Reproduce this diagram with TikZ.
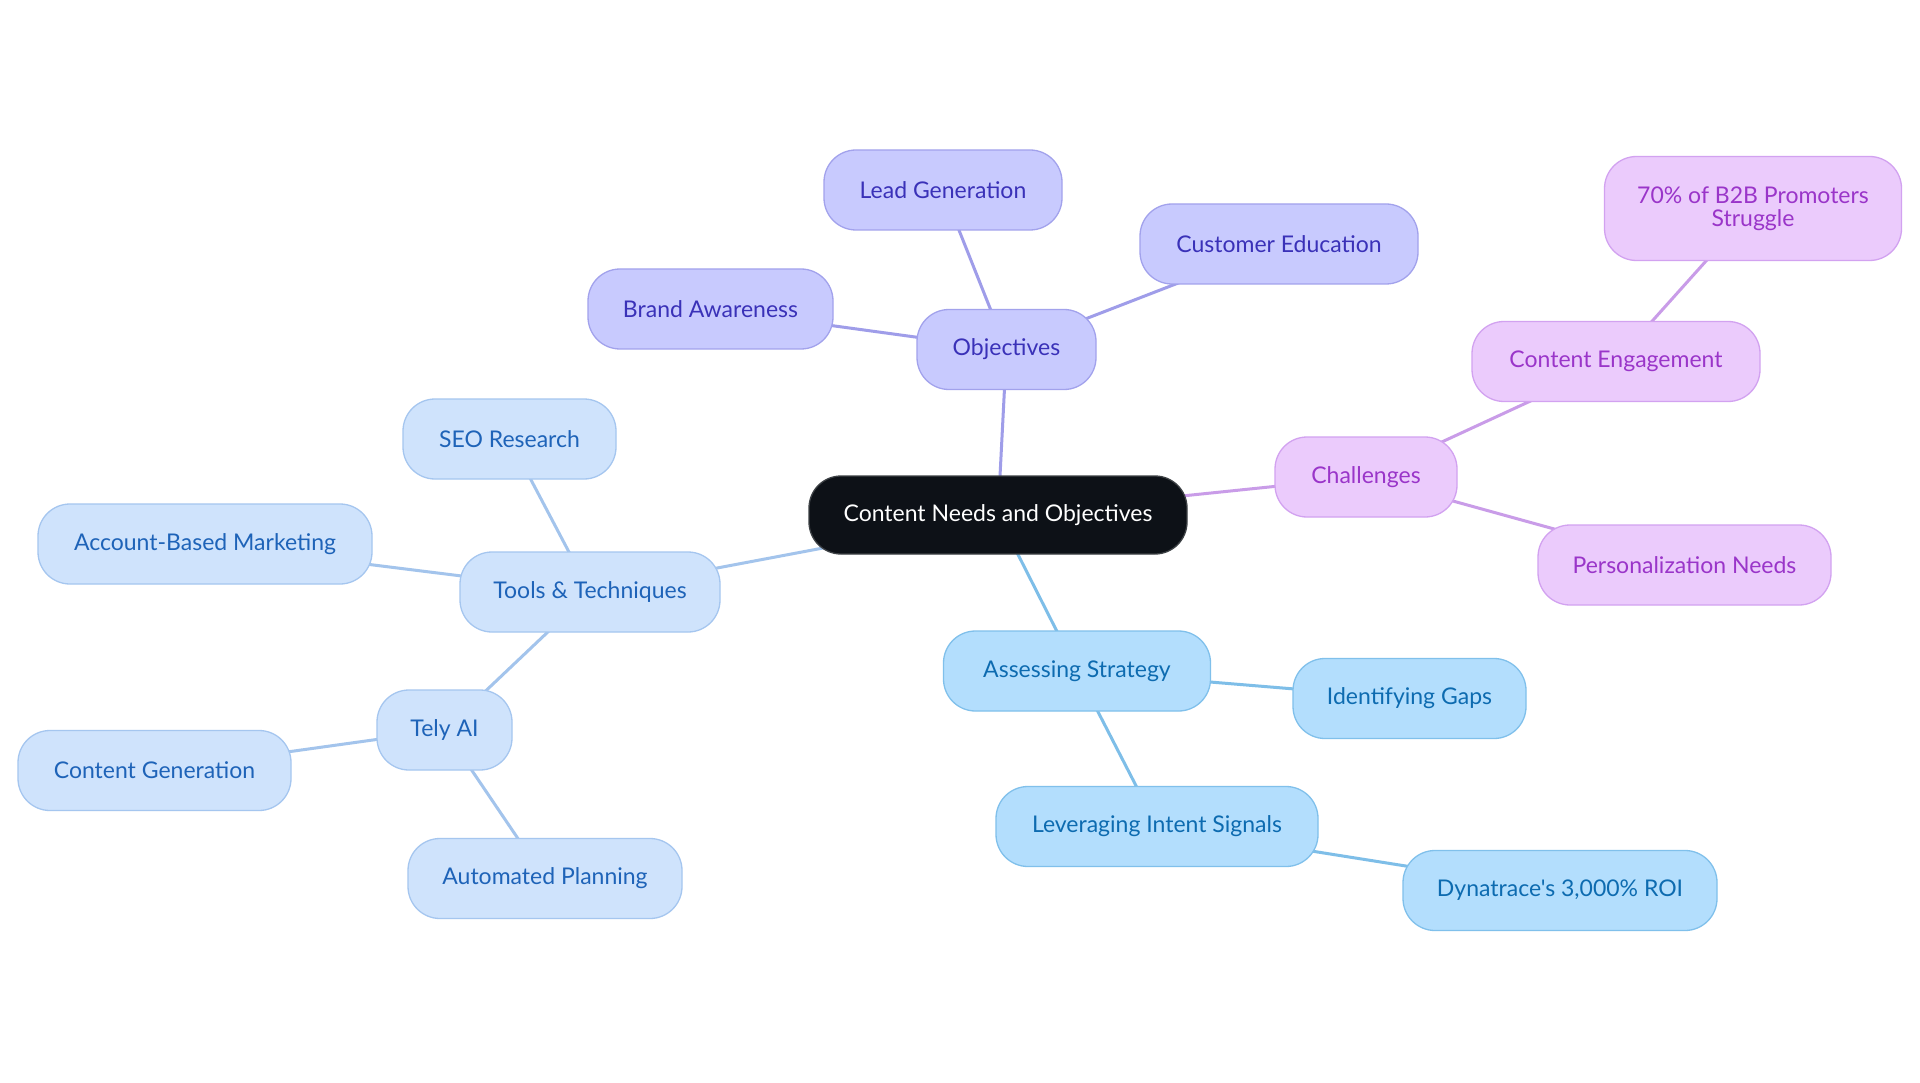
\documentclass[tikz,border=0pt]{standalone}
\usepackage{fontspec}
\setmainfont{Lato}[Ligatures=TeXOff]
\usetikzlibrary{backgrounds}
\pgfdeclarelayer{bottom}
\pgfsetlayers{bottom,background,main}
\definecolor{rootfill}{HTML}{0D1117}
\definecolor{objfill}{HTML}{C8CAFE}
\definecolor{objdraw}{HTML}{A2A2EC}
\definecolor{objtext}{HTML}{3A31B8}
\definecolor{objline}{HTML}{9F9DE9}
\definecolor{chfill}{HTML}{EBCBFC}
\definecolor{chdraw}{HTML}{D2A2F0}
\definecolor{chtext}{HTML}{9A35C9}
\definecolor{chline}{HTML}{C99CE8}
\definecolor{tofill}{HTML}{CFE3FC}
\definecolor{todraw}{HTML}{A5C6EF}
\definecolor{totext}{HTML}{1E63B8}
\definecolor{toline}{HTML}{A3C4EC}
\definecolor{asfill}{HTML}{B3DEFD}
\definecolor{asdraw}{HTML}{80C0EB}
\definecolor{astext}{HTML}{0D6BB0}
\definecolor{asline}{HTML}{7EBEE8}
\tikzset{
  base/.style={rectangle, rounded corners=32pt, minimum height=80pt, inner xsep=30pt, inner ysep=0pt,
    line width=1.3pt, font=\fontsize{23}{23.5}\selectfont, align=center},
  rootnode/.style={base, fill=rootfill, draw=rootfill!80!white, text=white},
  objnode/.style={base, fill=objfill, draw=objdraw, text=objtext},
  chnode/.style={base, fill=chfill, draw=chdraw, text=chtext},
  tonode/.style={base, fill=tofill, draw=todraw, text=totext},
  asnode/.style={base, fill=asfill, draw=asdraw, text=astext},
  link/.style={line width=3pt}
}
\begin{document}
\begin{tikzpicture}[x=1pt,y=-1pt]
\begin{pgfonlayer}{bottom}
\fill[white] (0,0) rectangle (1920,1083);
\end{pgfonlayer}
\useasboundingbox (0,0) rectangle (1920,1083);
\node[rootnode, minimum width=378pt, minimum height=78pt] (root) at (998,515) {Content Needs and Objectives};
\node[objnode, minimum width=179pt] (obj) at (1006.5,349.5) {Objectives};
\node[objnode, minimum width=238pt] (lead) at (943,190) {Lead Generation};
\node[objnode, minimum width=278pt] (cust) at (1279,244) {Customer Education};
\node[objnode, minimum width=245pt] (brand) at (710.5,309) {Brand Awareness};
\node[chnode, minimum width=182pt] (chal) at (1366,477) {Challenges};
\node[chnode, minimum width=288pt] (eng) at (1616,361.5) {Content Engagement};
\node[chnode, minimum width=297pt, minimum height=104pt] (b2b) at (1753,208.5) {70\% of B2B Promoters\\Struggle};
\node[chnode, minimum width=293pt] (pers) at (1684.5,565) {Personalization Needs};
\node[tonode, minimum width=260pt] (tools) at (590,592) {Tools \& Techniques};
\node[tonode, minimum width=213pt] (seo) at (509.5,439) {SEO Research};
\node[tonode, minimum width=334pt] (abm) at (205,544) {Account-Based Marketing};
\node[tonode, minimum width=135pt] (tely) at (444.5,730) {Tely AI};
\node[tonode, minimum width=273pt] (cgen) at (154.5,770.5) {Content Generation};
\node[tonode, minimum width=274pt] (auto) at (545,878.5) {Automated Planning};
\node[asnode, minimum width=267pt] (assess) at (1077,671) {Assessing Strategy};
\node[asnode, minimum width=233pt] (gaps) at (1409.5,698.5) {Identifying Gaps};
\node[asnode, minimum width=322pt] (lev) at (1157,826.5) {Leveraging Intent Signals};
\node[asnode, minimum width=314pt] (dyn) at (1560,890.5) {Dynatrace's 3,000\% ROI};
\begin{pgfonlayer}{background}
\draw[link, objline] (root.center) -- (obj.center);
\draw[link, objline] (obj.center) -- (lead.center);
\draw[link, objline] (obj.center) -- (cust.center);
\draw[link, objline] (obj.center) -- (brand.center);
\draw[link, chline] (root.center) -- (chal.center);
\draw[link, chline] (chal.center) -- (eng.center);
\draw[link, chline] (eng.center) -- (b2b.center);
\draw[link, chline] (chal.center) -- (pers.center);
\draw[link, toline] (root.center) -- (tools.center);
\draw[link, toline] (tools.center) -- (seo.center);
\draw[link, toline] (tools.center) -- (abm.center);
\draw[link, toline] (tools.center) -- (tely.center);
\draw[link, toline] (tely.center) -- (cgen.center);
\draw[link, toline] (tely.center) -- (auto.center);
\draw[link, asline] (root.center) -- (assess.center);
\draw[link, asline] (assess.center) -- (gaps.center);
\draw[link, asline] (assess.center) -- (lev.center);
\draw[link, asline] (lev.center) -- (dyn.center);
\end{pgfonlayer}
\end{tikzpicture}
\end{document}
